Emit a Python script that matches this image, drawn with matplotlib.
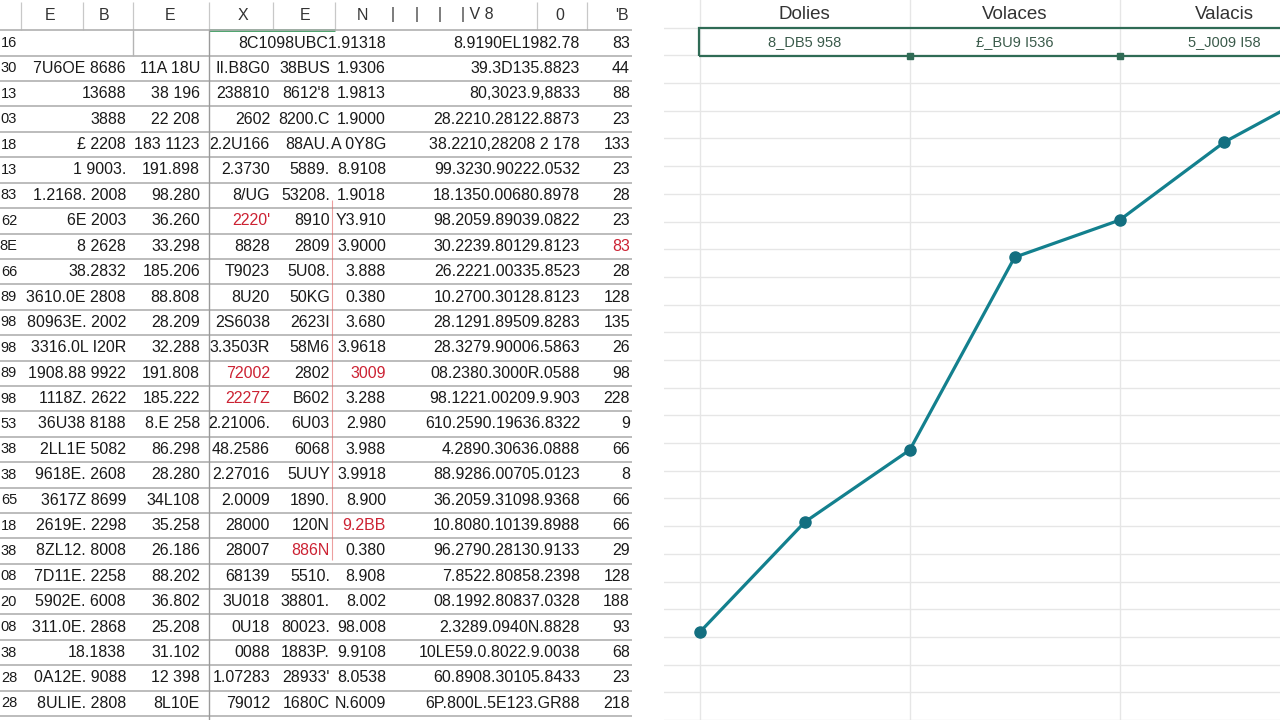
import matplotlib.pyplot as plt
from matplotlib.patches import Rectangle

plt.rcParams['font.family'] = ['Liberation Sans', 'DejaVu Sans']

# ---- spreadsheet (left) ----
col_letters = ["E", "B", "E", "X", "E", "N", "|", "|", "|", "| V 8", "0", "'B"]

row_ids = ["16", "30", "13", "03", "18", "13", "83", "62", "8E", "66", "89", "98", "98", "89",
           "98", "53", "38", "38", "65", "18", "38", "08", "20", "08", "38", "28", "28"]
col_e = ["", "7U6OE 8686", "13688", "3888", "£ 2208", "1 9003.", "1.2168. 2008", "6E 2003",
         "8 2628", "38.2832", "3610.0E 2808", "80963E. 2002", "3316.0L I20R", "1908.88 9922",
         "1118Z. 2622", "36U38 8188", "2LL1E 5082", "9618E. 2608", "3617Z 8699", "2619E. 2298",
         "8ZL12. 8008", "7D11E. 2258", "5902E. 6008", "311.0E. 2868", "18.1838", "0A12E. 9088",
         "8ULIE. 2808"]
col_b = ["", "11A 18U", "38 196", "22 208", "183 1123", "191.898", "98.280", "36.260", "33.298",
         "185.206", "88.808", "28.209", "32.288", "191.808", "185.222", "8.E 258", "86.298",
         "28.280", "34L108", "35.258", "26.186", "88.202", "36.802", "25.208", "31.102", "12 398",
         "8L10E"]
col_x = ["", "II.B8G0", "238810", "2602", "2.2U166", "2.3730", "8/UG", "2220'", "8828", "T9023",
         "8U20", "2S6038", "3.3503R", "72002", "2227Z", "2.21006.", "48.2586", "2.27016", "2.0009",
         "28000", "28007", "68139", "3U018", "0U18", "0088", "1.07283", "79012"]
col_s = ["", "38BUS", "8612'8", "8200.C", "88AU.", "5889.", "53208.", "8910", "2809", "5U08.",
         "50KG", "2623I", "58M6", "2802", "B602", "6U03", "6068", "5UUY", "1890.", "120N", "886N",
         "5510.", "38801.", "80023.", "1883P.", "28933'", "1680C"]
col_n = ["8C1098UBC1.91318", "1.9306", "1.9813", "1.9000", "A 0Y8G", "8.9108", "1.9018",
         "Y3.910", "3.9000", "3.888", "0.380", "3.680", "3.9618", "3009", "3.288", "2.980",
         "3.988", "3.9918", "8.900", "9.2BB", "0.380", "8.908", "8.002", "98.008", "9.9108",
         "8.0538", "N.6009"]
col_v = ["8.9190EL1982.78", "39.3D135.8823", "80,3023.9,8833", "28.2210.28122.8873",
         "38.2210,28208 2 178", "99.3230.90222.0532", "18.1350.00680.8978", "98.2059.89039.0822",
         "30.2239.80129.8123", "26.2221.00335.8523", "10.2700.30128.8123", "28.1291.89509.8283",
         "28.3279.90006.5863", "08.2380.3000R.0588", "98.1221.00209.9.903", "610.2590.19636.8322",
         "4.2890.30636.0888", "88.9286.00705.0123", "36.2059.31098.9368", "10.8080.10139.8988",
         "96.2790.28130.9133", "7.8522.80858.2398", "08.1992.80837.0328", "2.3289.0940N.8828",
         "10LE59.0.8022.9.0038", "60.8908.30105.8433", "6P.800L.5E123.GR88"]
col_o = ["83", "44", "88", "23", "133", "23", "28", "23", "83", "28", "128", "135", "26", "98",
         "228", "9", "66", "8", "66", "66", "29", "128", "188", "93", "68", "23", "218"]

table_cols = [row_ids, col_e, col_b, col_x, col_s, col_n, col_v, col_o]
red_cells = {(7, 3), (13, 3), (14, 3), (13, 5), (19, 5), (20, 4), (8, 7)}

# ---- chart (right) ----
periods = [0, 1, 2, 3, 4, 5, 6]
series_values = [31.8, 71.5, 97.5, 167.1, 180.5, 208.7, 229.2]
header_labels = ["Dolies", "Volaces", "Valacis"]
header_values = ["8_DB5 958", "£_BU9 I536", "5_J009 I58"]

fig = plt.figure(figsize=(12.8, 7.2), dpi=100)

# table axes in pixel units
ax = fig.add_axes([0, 0, 1, 1])
ax.set_xlim(0, 1280)
ax.set_ylim(720, 0)
ax.axis('off')

col_right = [17, 126, 200, 270, 330, 386, 580, 630]
letter_x = [50, 104, 170, 243, 305, 362, 393, 417, 440, 477, 560, 622]
row_top, row_h = 30.3, 25.4

for x, letter in zip(letter_x, col_letters):
    ax.text(x, 15, letter, ha='center', va='center', fontsize=11.5, color='#333333')
for x in [21, 83, 133, 209, 273, 335, 537, 587]:
    ax.vlines(x, 2, row_top, color='#c8c8c8', lw=0.9)
ax.hlines(row_top, 209, 335, color='#3c9a5f', lw=2)

n_rows = len(row_ids)
for k in range(n_rows + 1):
    ax.hlines(row_top + k * row_h, 0, 632, color='#b0b0b0', lw=1.2)
ax.vlines(133, row_top, row_top + row_h, color='#b4b4b4', lw=1)
ax.vlines(209, row_top, 720, color='#9a9a9a', lw=1)
ax.vlines(332, 200, 560, color='#e06060', lw=0.8, alpha=0.6)

for j, col in enumerate(table_cols):
    size = 10.5 if j == 0 else 11.5
    for i, txt in enumerate(col):
        if not txt:
            continue
        color = '#cc2233' if (i, j) in red_cells else '#1a1a1a'
        ax.text(col_right[j], row_top + (i + 0.5) * row_h, txt, ha='right', va='center',
                fontsize=size, color=color)

# line chart axes
axc = fig.add_axes([664 / 1280, 0, 616 / 1280, 1])
axc.set_xlim(-0.343, 5.53)
axc.set_ylim(0, 260)
axc.set_xticks([0, 2, 4])
axc.set_yticks(range(0, 260, 10))
axc.tick_params(length=0, labelbottom=False, labelleft=False)
for s in axc.spines.values():
    s.set_visible(False)
axc.grid(True, color='#e6e6e6', lw=1)
axc.set_axisbelow(True)

axc.plot(periods, series_values, color='#13808e', lw=2.3, marker='o', markersize=8,
         markerfacecolor='#136f80', markeredgecolor='#136f80', zorder=3)

axc.add_patch(Rectangle((-0.01, 239.8), 6, 10, fill=False, edgecolor='#2f6b55', lw=1.6,
                        zorder=4, clip_on=False))
axc.plot([2, 4], [239.8, 239.8], 's', color='#2f6b55', markersize=4, zorder=5)
for i, (lab, val) in enumerate(zip(header_labels, header_values)):
    axc.text(2 * i + 1, 254.8, lab, ha='center', va='center', fontsize=13.5, color='#333333')
    axc.text(2 * i + 1, 244.9, val, ha='center', va='center', fontsize=10.5, color='#3a5a4a')

fig.savefig('out.png', dpi=100, facecolor='white')
